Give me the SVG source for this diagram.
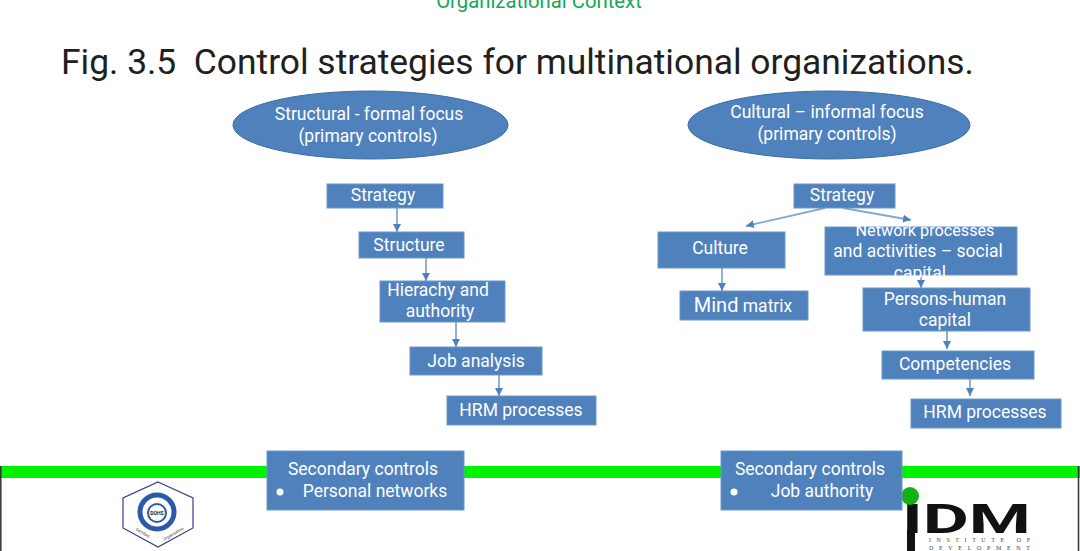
<svg xmlns="http://www.w3.org/2000/svg" width="1080" height="551" viewBox="0 0 1080 551">
<style>
text{font-family:Roboto,"Liberation Sans",sans-serif}
.n{fill:#4f81bd;stroke:#6f98c8;stroke-width:1}
ellipse.n{stroke:#3a6ea5}
.t{fill:#fff;font-size:17.500px;text-anchor:middle}
.c{stroke:#86a8d0;stroke-width:1.800;fill:none;marker-end:url(#a)}
.s{font-family:"Liberation Serif",serif;font-size:6px;fill:#444}
</style>
<defs><marker id="a" markerUnits="userSpaceOnUse" markerWidth="9" markerHeight="8" refX="8" refY="4" orient="auto"><path d="M0 0L8 4L0 8Z" fill="#4f81bd"/></marker></defs>
<rect width="1080" height="551" fill="#fff"/>
<text x="539" y="8" font-size="20.300" fill="#17a65a" text-anchor="middle">Organizational Context</text>
<text id="title" x="61" y="74" font-size="35.400" fill="#202020" xml:space="preserve">Fig. 3.5  Control strategies for multinational organizations.</text>
<g id="footer">
<rect x="0" y="466" width="1080" height="12" fill="#00f400"/>
<path d="M0.800 466V551M1078.500 466V551" stroke="#333" stroke-width="1.500"/>
</g>
<g id="logo-left" fill="none">
<path d="M158 482L193 498V528L158 547L123 528V498Z" stroke="#3c3c8c" stroke-width="1.200" fill="#fff"/>
<circle cx="157" cy="512" r="17" stroke="#2a5aa8" stroke-width="5"/>
<circle cx="157" cy="513" r="9" stroke="#2a5aa8" stroke-width="2"/>
<text x="157" y="515" font-size="5" font-weight="700" fill="#222" text-anchor="middle">DOHS</text>
<text x="142" y="534" font-size="4" fill="#333" text-anchor="middle" transform="rotate(30 142 534)">Certified</text>
<text x="174" y="535" font-size="4" fill="#333" text-anchor="middle" transform="rotate(-30 174 535)">Organisation</text>
</g>
<g id="logo-right">
<text x="902" y="533" font-size="41" font-weight="700" font-family="Liberation Serif" fill="#111" textLength="129" lengthAdjust="spacingAndGlyphs">IDM</text>
<rect x="907" y="530" width="8" height="21" fill="#111"/>
<circle cx="910" cy="496" r="9" fill="#12b012"/>
<text class="s" x="929" y="542" textLength="101">INSTITUTE OF</text>
<text class="s" x="929" y="550" textLength="101">DEVELOPMENT</text>
</g>
<g id="connectors">
<path class="c" d="M397 208V232"/>
<path class="c" d="M426 258V281"/>
<path class="c" d="M456 322V347"/>
<path class="c" d="M499 375V396"/>
<path class="c" d="M825 208L746 226"/>
<path class="c" d="M843 208L911 220"/>
<path class="c" d="M722 268V291"/>
<path class="c" d="M921 276V288"/>
<path class="c" d="M947 331V349"/>
<path class="c" d="M970 379V396"/>
</g>
<g id="e1"><ellipse class="n" cx="370.500" cy="125" rx="137.500" ry="34"/><text class="t" x="369" y="120">Structural - formal focus</text><text class="t" x="368" y="142">(primary controls)</text></g>
<g id="e2"><ellipse class="n" cx="829" cy="125" rx="141" ry="34"/><text class="t" x="827" y="118">Cultural – informal focus</text><text class="t" x="827" y="140">(primary controls)</text></g>
<g id="l1"><rect class="n" x="327" y="184" width="116" height="24"/><text class="t" x="383" y="201">Strategy</text></g>
<g id="l2"><rect class="n" x="359" y="232" width="105" height="26"/><text class="t" x="409" y="251">Structure</text></g>
<g id="l3"><rect class="n" x="380" y="281" width="125" height="41"/><text class="t" x="438" y="296">Hierachy and</text><text class="t" x="440" y="317">authority</text></g>
<g id="l4"><rect class="n" x="410" y="347" width="132" height="28"/><text class="t" x="476" y="367">Job analysis</text></g>
<g id="l5"><rect class="n" x="447" y="396" width="149" height="29"/><text class="t" x="521" y="416">HRM processes</text></g>
<g id="r1"><rect class="n" x="794" y="184" width="101" height="24"/><text class="t" x="842" y="201">Strategy</text></g>
<g id="r2"><rect class="n" x="658" y="232" width="127" height="36"/><text class="t" x="720" y="254">Culture</text></g>
<g id="r3"><rect class="n" x="680" y="291" width="128" height="29"/><text class="t" x="743" y="312"><tspan font-size="20">Mind</tspan> matrix</text></g>
<g id="r4"><rect class="n" x="825" y="227" width="192" height="48"/><text class="t" x="925" y="236" style="font-size:16.200px">Network processes</text><text class="t" x="918" y="257">and activities – social</text><text class="t" x="920" y="279">capital</text></g>
<g id="r5"><rect class="n" x="863" y="288" width="167" height="43"/><text class="t" x="945" y="305">Persons-human</text><text class="t" x="945" y="326">capital</text></g>
<g id="r6"><rect class="n" x="882" y="351" width="152" height="28"/><text class="t" x="955" y="370">Competencies</text></g>
<g id="r7"><rect class="n" x="911" y="399" width="150" height="29"/><text class="t" x="985" y="418">HRM processes</text></g>
<g id="s1"><rect class="n" x="267" y="451" width="197" height="59"/><text class="t" x="363" y="475">Secondary controls</text><circle cx="280" cy="492" r="3.500" fill="#fff"/><text class="t" x="375" y="497">Personal networks</text></g>
<g id="s2"><rect class="n" x="721" y="451" width="181" height="59"/><text class="t" x="810" y="475">Secondary controls</text><circle cx="734" cy="492" r="3.500" fill="#fff"/><text class="t" x="822" y="497">Job authority</text></g>
</svg>
